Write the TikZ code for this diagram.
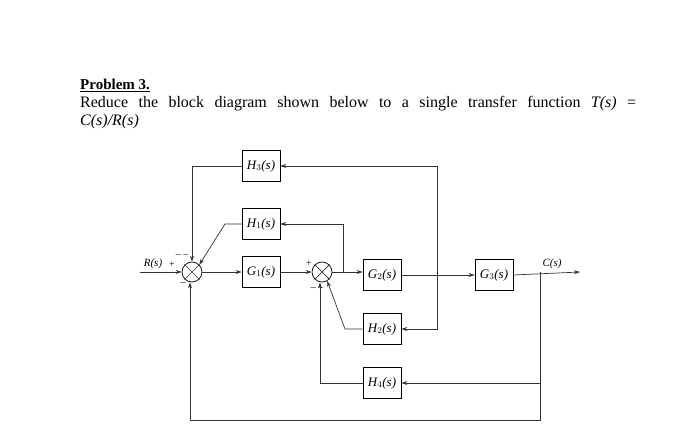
\documentclass[tikz,border=0pt]{standalone}
\usepackage{fontspec}
\setmainfont{Liberation Serif}
\usetikzlibrary{arrows.meta}
\begin{document}
\begin{tikzpicture}[x=1pt,y=-1pt,
  blk/.style={draw,line width=0.7pt,minimum width=38pt,minimum height=31pt,inner sep=0pt,font=\fontsize{13}{14}\selectfont\itshape},
  sumj/.style={draw,circle,minimum size=20pt,inner sep=0pt,line width=0.7pt},
  ln/.style={line width=0.7pt,black!80},
  ar/.style={ln,-{Stealth[length=6pt,width=4pt]}},
  sg/.style={font=\fontsize{10}{11}\selectfont}]
\useasboundingbox (0,0) rectangle (700,435);
\node[anchor=west,inner sep=0pt,font=\fontsize{15}{16}\selectfont\bfseries] (ttl) at (80,85) {\underline{Problem 3.}};
\node[anchor=west,inner sep=0pt,font=\fontsize{16}{18}\selectfont] (l1) at (80,104) {\makebox[556pt][s]{Reduce the block diagram shown below to a single transfer function \textit{T(s)} =}};
\node[anchor=west,inner sep=0pt,font=\fontsize{16}{18}\selectfont\itshape] (l2) at (80,122) {C(s)/R(s)};
\node[sumj] (s1) at (192,272) {};
\draw[ln] (s1.45)--(s1.225) (s1.135)--(s1.315);
\node[sumj] (s2) at (322,272) {};
\draw[ln] (s2.45)--(s2.225) (s2.135)--(s2.315);
\node[blk] (g1) at (261,272) {G$_1$(s)};
\node[blk] (h3) at (261,166) {H$_3$(s)};
\node[blk] (h1) at (261,224) {H$_1$(s)};
\node[blk] (g2) at (382,275) {G$_2$(s)};
\node[blk] (h2) at (382,329) {H$_2$(s)};
\node[blk] (h4) at (382,383) {H$_4$(s)};
\node[blk] (g3) at (494,275) {G$_3$(s)};
\coordinate (rin) at (140,272);
\coordinate (cout) at (580,272);
\node[font=\fontsize{11}{12}\selectfont\itshape] (rl) at (153,264) {R(s)};
\node[font=\fontsize{11}{12}\selectfont\itshape] (cl) at (552,264) {C(s)};
\node[sg] (p1) at (172,265) {+};
\node[sg] (m1) at (182,256) {-- --};
\node[sg] (m1b) at (183,284) {--};
\node[sg] (p2) at (309,264) {+};
\node[sg] (m2) at (317,289) {-- --};
\draw[ar] (rin)--(s1.west);
\draw[ar] (s1.east)--(g1.west);
\draw[ar] (g1.east)--(s2.west);
\draw[ar] (s2.east)--(g2.west |- s2.east);
\draw[ar] (g2.east |- g3.west)--(g3.west);
\draw[ar] (g3.east)--(cout);
\draw[ar] (343,272)--(343,224)--(h1.east);
\draw[ar] (h1.west)--(225,224)--(s1.45);
\draw[ar] (437,275)--(437,166)--(h3.east);
\draw[ar] (h3.west)--(192,166)--(s1.north);
\draw[ar] (437,275)--(437,329)--(h2.east);
\draw[ar] (h2.west)--(345,329)--(s2.-60);
\draw[ar] (540,272)--(540,383)--(h4.east);
\draw[ar] (h4.west)--(320,383)--(s2.south -| 320,0);
\draw[ar] (540,383)--(540,420)--(190,420)--(s1.south -| 190,0);
\end{tikzpicture}
\end{document}
